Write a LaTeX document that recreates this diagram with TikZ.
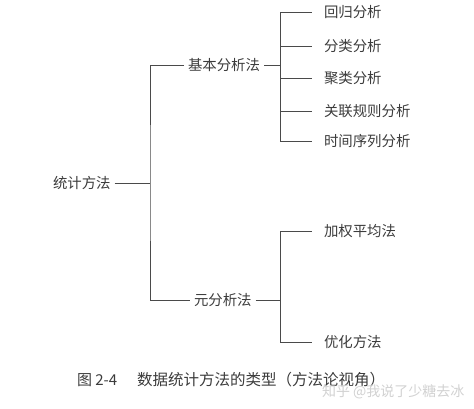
\documentclass[tikz,border=0pt]{standalone}
\usepackage{fontspec}
\usepackage{tikz}
\usetikzlibrary{positioning}
\newfontfamily\cjk{Noto Sans CJK SC}
\definecolor{inkgray}{HTML}{3C3C3C}
\definecolor{wiregray}{HTML}{4A4A4A}
\definecolor{markgray}{HTML}{D2D2D2}
\tikzset{lbl/.style={font=\cjk\fontsize{14.4}{16}\selectfont, text=inkgray, anchor=west, inner sep=0pt, outer sep=4pt},
	leaf/.style={lbl, outer sep=0pt},
	wire/.style={draw=wiregray, line width=0.8pt},
	twig/.style={wire, shorten >=12pt}}

\begin{document}
\begin{tikzpicture}[x=1pt,y=-1pt]
	\useasboundingbox[fill=white] (0,0) rectangle (474,409);
	
	\node[lbl] (stat) at (49,183) {统计方法};
	\node[lbl] (basic) at (184,65) {基本分析法};
	\node[lbl] (meta) at (190,300) {元分析法};
	
	\coordinate (j0) at (150,183);
	\coordinate (j1) at (280,65);
	\coordinate (j2) at (280,300);
	
	\node[leaf] (reg) at (324,12) {回归分析};
	\node[leaf] (cls) at (324,46) {分类分析};
	\node[leaf] (clu) at (324,78) {聚类分析};
	\node[leaf] (asr) at (324,111) {关联规则分析};
	\node[leaf] (tsr) at (324,141) {时间序列分析};
	
	\node[leaf] (wav) at (324,231) {加权平均法};
	\node[leaf] (opt) at (324,342) {优化方法};
	
	\draw[wire] (stat) -- (j0);
	\draw[wire] (basic.west) -| (j0) |- (meta.west);
	\draw[wire] (basic) -- (j1);
	\draw[wire] (meta) -- (j2);
	
	\draw[twig] (j1) |- (reg.west);
	\draw[twig] (j1) |- (cls.west);
	\draw[twig] (j1) |- (clu.west);
	\draw[twig] (j1) |- (asr.west);
	\draw[twig] (j1) |- (tsr.west);
	
	\draw[twig] (j2) |- (wav.west);
	\draw[twig] (j2) |- (opt.west);
	
	% caption and watermark
	\node[leaf, font=\cjk\fontsize{15}{17}\selectfont] (fig) at (77,380) {图 2-4};
	\node[leaf, font=\cjk\fontsize{15.5}{17}\selectfont] (cap) at (137,380) {数据统计方法的类型（方法论视角）};
	\node[leaf, text=markgray, font=\cjk\fontsize{14}{16}\selectfont] (mark) at (322,392) {知乎 @我说了少糖去冰};
\end{tikzpicture}
\end{document}
